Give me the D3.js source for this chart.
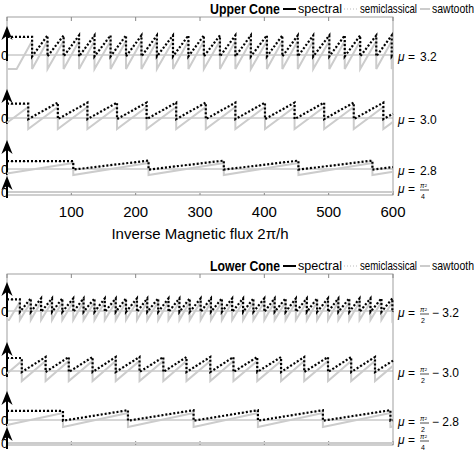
<!DOCTYPE html>
<html><head><meta charset="utf-8">
<script src="https://cdn.jsdelivr.net/npm/d3@7"></script>
<style>body{margin:0;background:#fff}text{font-family:"Liberation Sans",Arial,sans-serif}</style>
</head><body><svg id="c" width="474" height="451"></svg>
<script>
const xTicks=[100,200,300,400,500,600];
const upperJumps32=[39,63,88,112,136,161,185,209,233,258,282,306,331,355,379,404,428,452,476,501,525,549,574,598];
const upperJumps30=[33,79,125,171,217,263,309,355,401,447,493,539,585];
const upperJumps28=[103,220,337,453,568];
const lowerJumps32=[20,37,53,70,86,103,119,136,152,169,185,202,218,235,251,268,284,301,317,334,350,367,383,400,416,433,449,466,482,499,515,532,548,565,582,599];
const lowerJumps30=[23,60,96,133,169,206,243,279,316,352,389,426,462,499,535,572];
const lowerJumps28=[87,188,290,390,491,596];
const rowAmps=[14,11,6,9,10,7];
const panels=[
 {title:"Upper Cone",top:17,bot:195,rows:[
  {jumps:upperJumps32,amp:rowAmps[0],base:55,lab:["3.2"]},
  {jumps:upperJumps30,amp:rowAmps[1],base:118,lab:["3.0"]},
  {jumps:upperJumps28,amp:rowAmps[2],base:169,lab:["2.8"]},
  {jumps:null,amp:0,base:192,lab:null}],axis:true},
 {title:"Lower Cone",top:274,bot:445,rows:[
  {jumps:lowerJumps32,amp:rowAmps[3],base:311,lab:["3.2"]},
  {jumps:lowerJumps30,amp:rowAmps[4],base:371,lab:["3.0"]},
  {jumps:lowerJumps28,amp:rowAmps[5],base:420,lab:["2.8"]},
  {jumps:null,amp:0,base:443,lab:null}],axis:false}
];
const svg=d3.select("#c");
const x=d3.scaleLinear().domain([0,600]).range([7,393]);
const line=d3.line().x(d=>x(d[0])).y(d=>d[1]);
svg.append("defs").append("marker").attr("id","ar").attr("viewBox","0 0 10 10").attr("refX",5).attr("refY",5)
 .attr("markerWidth",7).attr("markerHeight",9).attr("orient","auto")
 .append("path").attr("d","M0,1 L10,5 L0,9 L3,5 Z").attr("fill","#000");
function frac(g,xx,yy,fs){
 g.append("text").attr("x",xx).attr("y",yy-5).attr("font-size",fs*0.55).attr("font-family","DejaVu Serif").attr("font-style","italic").text("π²");
 g.append("line").attr("x1",xx).attr("x2",xx+9).attr("y1",yy-3).attr("y2",yy-3).attr("stroke","#000").attr("stroke-width",0.7);
}
function nt(g,xx,yy,fs,w,s,bold){
 const t=g.append("text").attr("x",xx).attr("y",yy).attr("font-size",fs).attr("textLength",w).attr("lengthAdjust","spacingAndGlyphs").text(s);
 if(bold) t.attr("font-weight","bold");
 return t;
}
panels.forEach(p=>{
 const g=svg.append("g");
 const ly=p.top-5;
 nt(g,210,ly+2,15,70,p.title,true);
 g.append("line").attr("x1",283).attr("x2",296).attr("y1",ly-3).attr("y2",ly-3).attr("stroke","#000").attr("stroke-width",2);
 nt(g,298,ly+1,13,44,"spectral");
 g.append("line").attr("x1",344).attr("x2",357).attr("y1",ly-3).attr("y2",ly-3).attr("stroke","#bbb").attr("stroke-width",1).attr("stroke-dasharray","1,2");
 nt(g,360,ly+1,13,57,"semiclassical");
 g.append("line").attr("x1",420).attr("x2",430).attr("y1",ly-3).attr("y2",ly-3).attr("stroke","#ccc").attr("stroke-width",2);
 nt(g,432,ly+1,13,42,"sawtooth");
 g.append("rect").attr("x",x(0)).attr("y",p.top).attr("width",x(600)-x(0)).attr("height",p.bot-p.top).attr("fill","none").attr("stroke","#888").attr("stroke-width",0.8);
 xTicks.concat([0]).forEach(t=>{
  g.append("line").attr("x1",x(t)).attr("x2",x(t)).attr("y1",p.top).attr("y2",p.top+4).attr("stroke","#888");
  g.append("line").attr("x1",x(t)).attr("x2",x(t)).attr("y1",p.bot).attr("y2",p.bot-4).attr("stroke","#888");
 });
 p.rows.forEach((r,i)=>{
  g.append("line").attr("x1",x(0)).attr("x2",x(600)).attr("y1",r.base).attr("y2",r.base).attr("stroke",r.jumps?"#999":"#ccc").attr("stroke-width",r.jumps?0.8:2);
  g.append("text").attr("x",1).attr("y",r.base+5).attr("font-size",13).text("0");
  const top=i==0?p.top-2:p.rows[i-1].base+14;
  g.append("line").attr("x1",x(0)).attr("x2",x(0)).attr("y1",r.base+6).attr("y2",r.base-22<top?top:r.base-22)
   .attr("stroke","#000").attr("stroke-width",2).attr("marker-end","url(#ar)");
  const lg=g.append("g");
  const lx=398, lyy=r.base+(r.jumps?6:1);
  lg.append("text").attr("x",lx).attr("y",lyy).attr("font-family","DejaVu Serif").attr("font-style","italic").attr("font-size",12).text("μ");
  lg.append("text").attr("x",lx+10).attr("y",lyy).attr("font-family","DejaVu Serif").attr("font-size",12).text("=");
  if(r.lab){
   if(p.axis) lg.append("text").attr("x",lx+22).attr("y",lyy).attr("font-family","DejaVu Serif").attr("font-size",12).text(r.lab[0]);
   else { frac(lg,lx+22,lyy,12); lg.append("text").attr("x",lx+23).attr("y",lyy+6).attr("font-size",7).attr("font-family","DejaVu Serif").text("2");
     lg.append("text").attr("x",lx+34).attr("y",lyy).attr("font-family","DejaVu Serif").attr("font-size",12).text("− "+r.lab[0]); }
  } else {
   frac(lg,lx+22,lyy,12); lg.append("text").attr("x",lx+23).attr("y",lyy+6).attr("font-size",7).attr("font-family","DejaVu Serif").text("4");
  }
  if(!r.jumps) return;
  const y=d3.scaleLinear().domain([-1,1]).range([r.base+r.amp,r.base-r.amp]);
  const J=r.jumps, P=J[1]-J[0];
  let saw;
  if(J[0]>P) saw=[[0,y(-1)],[J[0]-P,y(-1)]]; else saw=[[0,y(1-2*J[0]/P)]];
  const spec=[[0,y(1.3)]], semi=[[0,y(1.25)]];
  J.forEach((j,k)=>{
   saw.push([j,y(1)],[j,y(-1)]);
   spec.push([j,y(k==0?1.3:1.4)],[j,y(-0.1)]);
   semi.push([j,y(k==0?1.25:1.35)],[j,y(-0.15)]);
  });
  const last=J[J.length-1];
  if(last<600){const f=(600-last)/P; saw.push([600,y(-1+2*f)]); spec.push([600,y(-0.1+1.5*f)]); semi.push([600,y(-0.15+1.5*f)]);}
  g.append("path").attr("d",line(saw)).attr("fill","none").attr("stroke","#ccc").attr("stroke-width",2);
  g.append("path").attr("d",line(semi)).attr("fill","none").attr("stroke","#bbb").attr("stroke-width",1).attr("stroke-dasharray","1,2");
  g.append("path").attr("d",line(spec)).attr("fill","none").attr("stroke","#000").attr("stroke-width",2.2).attr("stroke-dasharray","2,2");
 });
 if(p.axis){
  xTicks.forEach(t=>g.append("text").attr("x",x(t)).attr("y",p.bot+22).attr("text-anchor","middle").attr("font-size",15).text(t));
  g.append("text").attr("x",200).attr("y",p.bot+44).attr("text-anchor","middle").attr("font-size",15).text("Inverse Magnetic flux 2π/h");
 }
});
</script></body></html>
